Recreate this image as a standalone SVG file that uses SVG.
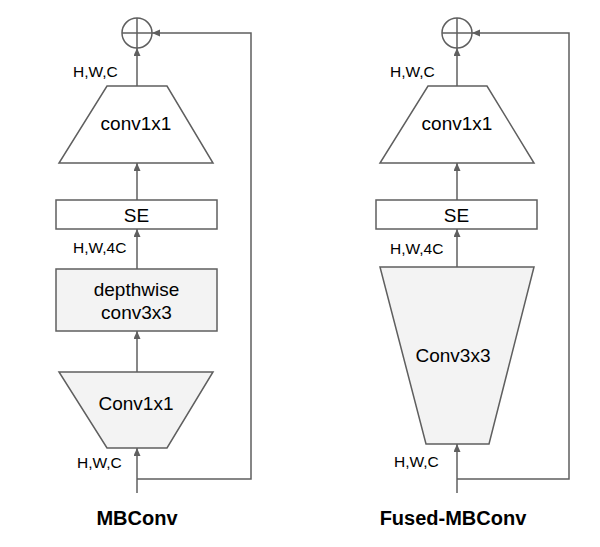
<svg xmlns="http://www.w3.org/2000/svg" width="600" height="547" viewBox="0 0 600 547">
<defs>
<marker id="ah" markerUnits="userSpaceOnUse" markerWidth="9" markerHeight="8" refX="8" refY="3.5" orient="auto">
<path d="M0,0 L8,3.5 L0,7 Z" fill="#5f5f5f"/>
</marker>
<style>
.s{fill:none;stroke:#5f5f5f;stroke-width:1.5}
.w{fill:#ffffff;stroke:#5f5f5f;stroke-width:1.5}
.g{fill:#f3f3f3;stroke:#5f5f5f;stroke-width:1.5}
.c{fill:none;stroke:#5f5f5f;stroke-width:1.5;marker-end:url(#ah)}
.t{font-family:"Liberation Sans",Arial,sans-serif;font-size:19px;fill:#000;text-anchor:middle}
.d{font-family:"Liberation Sans",Arial,sans-serif;font-size:15.5px;fill:#000}
.b{font-family:"Liberation Sans",Arial,sans-serif;font-size:20px;font-weight:bold;fill:#000;text-anchor:middle}
</style>
</defs>
<rect width="600" height="547" fill="#ffffff"/>
<g id="connectors">
<line class="c" x1="137" y1="493" x2="137" y2="448"/>
<polyline class="c" points="137,479 251,479 251,33 152,33"/>
<line class="c" x1="137" y1="372" x2="137" y2="331"/>
<line class="c" x1="137" y1="269" x2="137" y2="229"/>
<line class="c" x1="137" y1="200" x2="137" y2="163"/>
<line class="c" x1="137" y1="86" x2="137" y2="48"/>
<line class="c" x1="457" y1="493" x2="457" y2="444"/>
<polyline class="c" points="457,479 569,479 569,33 472,33"/>
<line class="c" x1="457" y1="267" x2="457" y2="229"/>
<line class="c" x1="457" y1="200" x2="457" y2="163"/>
<line class="c" x1="457" y1="86" x2="457" y2="48"/>
</g>
<g id="mb-add">
<circle class="w" cx="137" cy="33" r="15"/>
<line class="s" x1="122" y1="33" x2="152" y2="33"/>
<line class="s" x1="137" y1="18" x2="137" y2="48"/>
</g>
<g id="mb-conv1x1-top">
<polygon class="w" points="107,86 167,86 213,163 59,163"/>
<text class="t" x="136" y="130">conv1x1</text>
</g>
<g id="mb-se">
<rect class="w" x="56" y="200" width="161" height="29"/>
<text class="t" x="136.5" y="222">SE</text>
</g>
<g id="mb-depthwise">
<rect class="g" x="56" y="269" width="161" height="62"/>
<text class="t" x="136.5" y="296">depthwise</text>
<text class="t" x="136.5" y="319">conv3x3</text>
</g>
<g id="mb-conv1x1-bottom">
<polygon class="g" points="59,372 213,372 167,448 107,448"/>
<text class="t" x="136" y="410">Conv1x1</text>
</g>
<g id="mb-labels">
<text class="d" x="73" y="77">H,W,C</text>
<text class="d" x="73" y="253">H,W,4C</text>
<text class="d" x="77" y="468">H,W,C</text>
<text class="b" x="137" y="525">MBConv</text>
</g>
<g id="fmb-add">
<circle class="w" cx="457" cy="33" r="15"/>
<line class="s" x1="442" y1="33" x2="472" y2="33"/>
<line class="s" x1="457" y1="18" x2="457" y2="48"/>
</g>
<g id="fmb-conv1x1-top">
<polygon class="w" points="428,86 487,86 534,163 380,163"/>
<text class="t" x="457" y="130">conv1x1</text>
</g>
<g id="fmb-se">
<rect class="w" x="376" y="200" width="161" height="29"/>
<text class="t" x="456.5" y="222">SE</text>
</g>
<g id="fmb-conv3x3">
<polygon class="g" points="380,267 534,267 489,444 426,444"/>
<text class="t" x="453" y="362">Conv3x3</text>
</g>
<g id="fmb-labels">
<text class="d" x="390" y="77">H,W,C</text>
<text class="d" x="390" y="254">H,W,4C</text>
<text class="d" x="394" y="467">H,W,C</text>
<text class="b" x="453" y="525">Fused-MBConv</text>
</g>
</svg>
